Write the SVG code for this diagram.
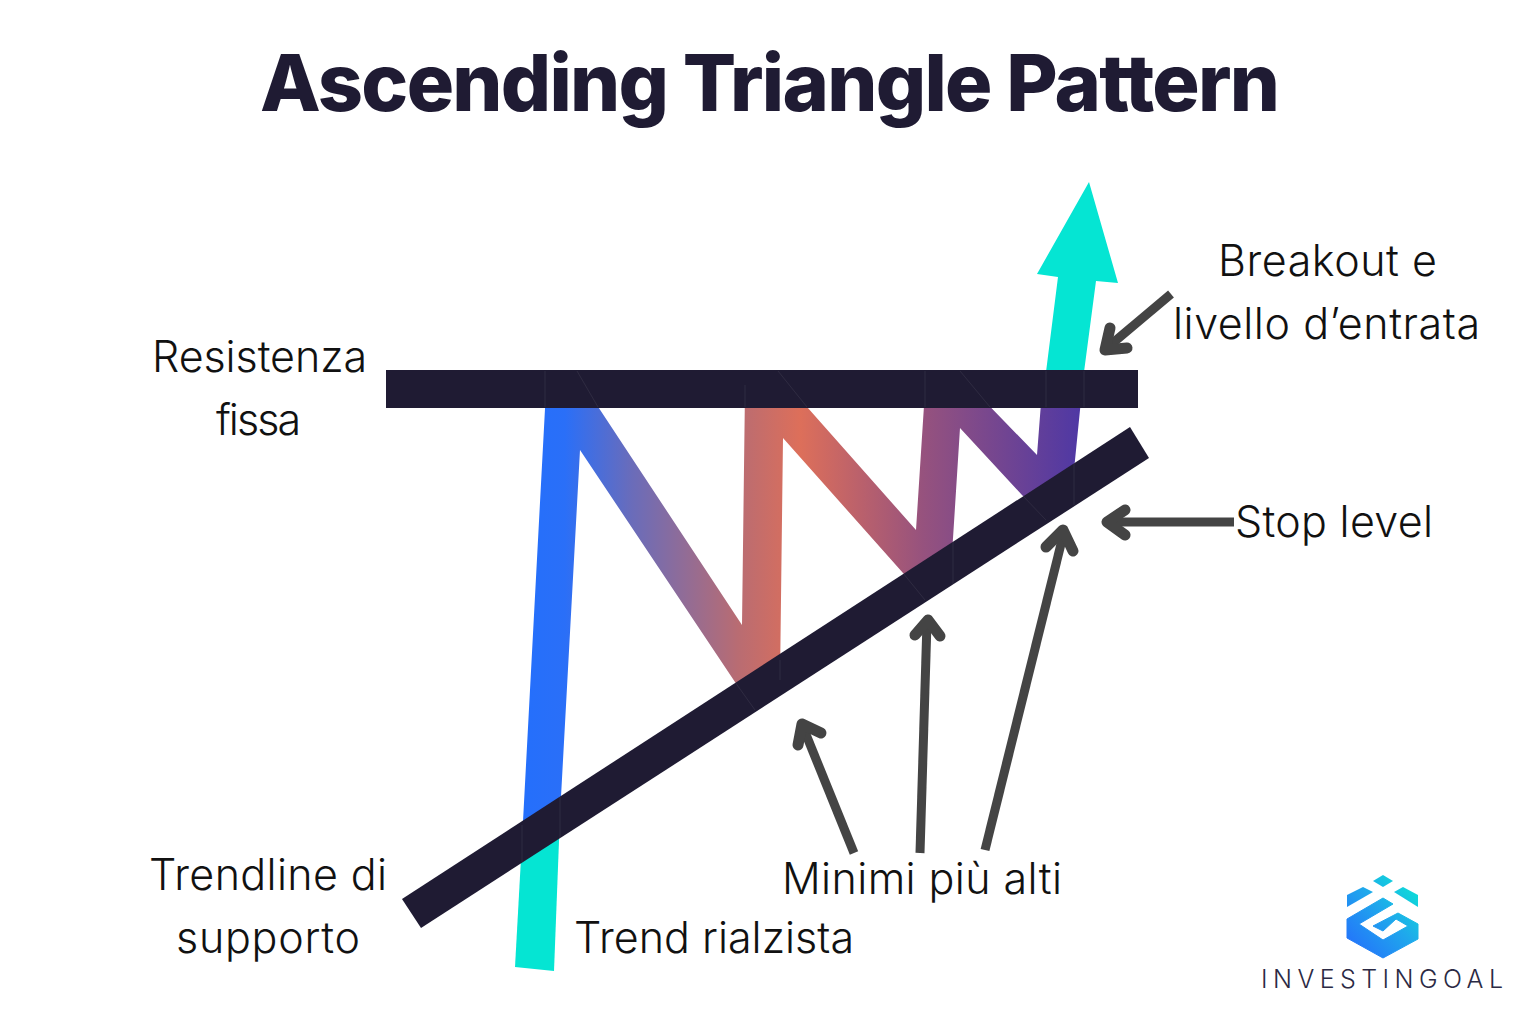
<svg xmlns="http://www.w3.org/2000/svg" width="1536" height="1024" viewBox="0 0 1536 1024">
<style>
.t{font-family:"Inter","Liberation Sans",sans-serif;font-weight:300;font-size:43px;fill:#111}
.dark{fill:#1f1b33}
.teal{fill:#05e5d3}
.a{fill:none;stroke:#444;stroke-width:9}
.h{fill:none;stroke:#444;stroke-width:11;stroke-linecap:round;stroke-linejoin:round}
.s{stroke:#fff;stroke-opacity:.07;stroke-width:1;fill:none}
</style>
<defs>
<linearGradient id="zig" gradientUnits="userSpaceOnUse" x1="520" y1="0" x2="1080" y2="0">
<stop offset="0" stop-color="#246ffc"/><stop offset=".08" stop-color="#2a6ff8"/><stop offset=".2" stop-color="#6a6cba"/><stop offset=".39" stop-color="#b96c72"/><stop offset=".5" stop-color="#dd6f5a"/><stop offset=".72" stop-color="#96527e"/><stop offset="1" stop-color="#4f38a4"/>
</linearGradient>
<linearGradient id="lg" gradientUnits="userSpaceOnUse" x1="1347" y1="950" x2="1419" y2="885">
<stop offset="0" stop-color="#246ffc"/><stop offset=".55" stop-color="#1fa8ec"/><stop offset="1" stop-color="#0be3d5"/>
</linearGradient>
</defs>
<rect width="1536" height="1024" fill="#fff"/>
<g id="title"><text x="260" y="111" textLength="1020" lengthAdjust="spacing" style="font-family:Inter,'Liberation Sans',sans-serif;font-weight:800;font-size:79px;fill:#1f1b33">Ascending Triangle Pattern</text></g>
<g id="trend-rialzista">
<polygon class="teal" points="515,967 554,971 560,815 522,840"/>
<polygon fill="url(#zig)" points="522,840 546,390 587,390 742,625 745,390 792,390 916,530 925,390 974,390 1037,455 1042,390 1082,390 1072,490 1040,514 1022,495 960,428 951,570 918,590 903,573 783,438 780,680 740,690 735,682 580,450 560,815"/>
<polygon class="teal" points="1046,372 1058,277 1037,274 1089,182 1118,283 1096,281 1084,372"/>
</g>
<g id="resistenza-bar"><rect class="dark" x="386" y="370" width="752" height="38"/><path class="s" d="M545 371V407M745 385V407M925 371V407M1046 371V407M1084 371V407M577 371L598 407M778 371L807 407M960 371L990 407"/></g>
<g id="trendline-bar"><polygon class="dark" points="402,899 1130,427 1149,458 421,928"/><path class="s" d="M780 660V680M953 538V590M1074 462V505M1022 495L1046 520M735 682L755 710M903 573L925 600M522 825V862M560 795V840"/></g>
<g id="connectors">
<path class="a" d="M1171 294L1108 347"/><path class="h" d="M1110 328L1105 350L1127 348"/>
<path class="a" d="M1234 522H1110"/><path class="h" d="M1125 510L1107 522L1125 535"/>
<path class="a" d="M985 850L1063 536"/><path class="h" d="M1046 547L1063 530L1073 551"/>
<path class="a" d="M920 853L927 622"/><path class="h" d="M915 635L928 620L940 636"/>
<path class="a" d="M854 853L803 727"/><path class="h" d="M798 745L802 724L821 733"/>
</g>
<g id="labels">
<text class="t" x="152" y="372" textLength="215">Resistenza</text>
<text class="t" x="216" y="435" textLength="85">fissa</text>
<text class="t" x="1218" y="276" textLength="219">Breakout e</text>
<text class="t" x="1173" y="339" textLength="307">livello d’entrata</text>
<text class="t" x="1235" y="537" textLength="198">Stop level</text>
<text class="t" x="782" y="894" textLength="280">Minimi più alti</text>
<text class="t" x="574" y="953" textLength="280">Trend rialzista</text>
<text class="t" x="149" y="890" textLength="238">Trendline di</text>
<text class="t" x="176" y="953" textLength="184">supporto</text>
</g>
<g id="logo">
<polygon fill="url(#lg)" points="1373,881 1383,875 1393,881 1383,887"/>
<polygon fill="url(#lg)" points="1347,895 1363,887 1373,892 1347,907"/>
<polygon fill="url(#lg)" points="1394,892 1403,887 1418,895 1418,907"/>
<polygon fill="url(#lg)" stroke="url(#lg)" stroke-width="1" stroke-linejoin="round" points="1383,898 1393,904 1359,924 1383,940 1408,926 1396,919 1383,931 1373,926 1398,913 1418,924 1418,939 1383,958 1347,938 1347,919"/>
<text x="1261" y="988" textLength="242" style="font-family:Inter,'Liberation Sans',sans-serif;font-weight:300;font-size:25px;fill:#2b2a44">INVESTINGOAL</text>
</g>
</svg>
